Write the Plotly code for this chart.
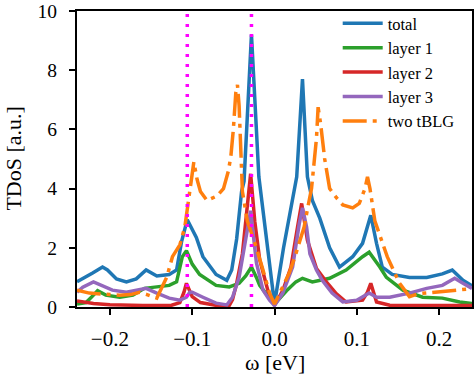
import plotly.graph_objects as go

# ---- data ----
total_x = [-0.24, -0.233, -0.221, -0.209, -0.203, -0.192, -0.18, -0.168, -0.156, -0.143,
           -0.128, -0.119, -0.113, -0.106, -0.1, -0.095, -0.087, -0.071, -0.058, -0.052,
           -0.046, -0.04, -0.037, -0.028, -0.019, -0.01, -0.004, 0.0, 0.011, 0.027,
           0.034, 0.04, 0.046, 0.055, 0.067, 0.079, 0.095, 0.107, 0.117, 0.124,
           0.131, 0.143, 0.164, 0.185, 0.204, 0.216, 0.229, 0.24]
total_y = [0.85, 0.95, 1.15, 1.35, 1.25, 0.95, 0.85, 0.95, 1.25, 1.05,
           1.1, 1.25, 2.2, 2.95, 2.6, 2.35, 1.7, 1.1, 0.9, 1.25,
           2.3, 3.9, 4.25, 9.2, 4.4, 2.35, 0.9, 0.1, 2.0, 4.4,
           7.7, 4.4, 3.6, 3.0, 2.0, 1.35, 1.7, 2.15, 3.1, 2.15,
           1.35, 1.1, 1.0, 1.0, 1.12, 1.25, 0.9, 0.72]

layer1_x = [-0.24, -0.229, -0.22, -0.215, -0.205, -0.188, -0.172, -0.158, -0.143, -0.128,
            -0.119, -0.112, -0.107, -0.1, -0.091, -0.071, -0.055, -0.043, -0.035, -0.028,
            -0.022, -0.018, -0.006, 0.0, 0.0146, 0.026, 0.034, 0.046, 0.067, 0.087,
            0.107, 0.115, 0.128, 0.136, 0.156, 0.18, 0.204, 0.225, 0.24]
layer1_y = [0.1, 0.15, 0.4, 0.55, 0.4, 0.33, 0.4, 0.63, 0.68, 0.73,
            0.85, 1.7, 1.9, 1.45, 1.1, 0.73, 0.68, 0.8, 1.05, 1.35,
            1.0, 0.73, 0.3, 0.1, 0.55, 0.85, 0.97, 0.85, 0.97, 1.25,
            1.7, 1.85, 1.35, 1.0, 0.57, 0.33, 0.3, 0.17, 0.12]

layer2_x = [-0.24, -0.22, -0.2, -0.16, -0.125, -0.115, -0.11, -0.107, -0.1, -0.09,
            -0.07, -0.055, -0.051, -0.046, -0.039, -0.033, -0.029, -0.024, -0.018, -0.008,
            0.0, 0.01, 0.02, 0.028, 0.033, 0.04, 0.051, 0.063, 0.075, 0.087,
            0.107, 0.113, 0.117, 0.124, 0.14, 0.24]
layer2_y = [0.2, 0.12, 0.08, 0.05, 0.06, 0.15, 0.5, 0.8, 0.35, 0.15,
            0.05, 0.05, 0.25, 0.8, 1.8, 3.5, 4.5, 2.9, 1.6, 0.55,
            0.05, 0.55, 1.35, 2.7, 3.5, 2.25, 1.3, 0.85, 0.45, 0.17,
            0.23, 0.5, 0.8, 0.17, 0.06, 0.05]

layer3_x = [-0.24, -0.233, -0.22, -0.209, -0.197, -0.18, -0.164, -0.156, -0.143, -0.128,
            -0.115, -0.107, -0.103, -0.1, -0.087, -0.071, -0.058, -0.051, -0.043, -0.034,
            -0.029, -0.022, -0.014, -0.006, 0.0, 0.01, 0.022, 0.03, 0.034, 0.039,
            0.043, 0.051, 0.058, 0.07, 0.083, 0.1, 0.112, 0.115, 0.124, 0.14,
            0.164, 0.185, 0.204, 0.219, 0.229, 0.24]
layer3_y = [0.5, 0.67, 0.85, 0.73, 0.57, 0.5, 0.57, 0.63, 0.47, 0.3,
            0.23, 0.33, 0.5, 0.5, 0.33, 0.13, 0.07, 0.33, 1.0, 2.35,
            3.25, 1.5, 0.57, 0.23, 0.05, 0.47, 1.35, 2.8, 3.35, 2.7,
            1.8, 1.25, 0.9, 0.47, 0.17, 0.23, 0.4, 0.47, 0.33, 0.33,
            0.47, 0.63, 0.73, 0.97, 0.8, 0.63]

tblg_x = [-0.24, -0.225, -0.2, -0.188, -0.175, -0.164, -0.155, -0.143, -0.131, -0.124,
          -0.115, -0.109, -0.104, -0.098, -0.094, -0.09, -0.082, -0.07, -0.062, -0.056,
          -0.053, -0.05, -0.047, -0.045, -0.043, -0.039, -0.033, -0.022, -0.014, -0.006,
          0.0, 0.006, 0.018, 0.026, 0.036, 0.04, 0.045, 0.051, 0.053, 0.056,
          0.061, 0.067, 0.075, 0.083, 0.095, 0.103, 0.11, 0.113, 0.116, 0.122,
          0.137, 0.152, 0.164, 0.175, 0.192, 0.215, 0.24]
tblg_y = [0.57, 0.47, 0.42, 0.4, 0.42, 0.5, 0.42, 0.3, 1.0, 1.7,
          2.1, 2.7, 3.7, 4.9, 4.3, 3.9, 3.6, 3.75, 4.0, 4.6,
          5.1, 6.0, 7.25, 7.5, 6.8, 3.9, 2.9, 2.0, 1.25, 0.47,
          0.1, 0.47, 1.15, 1.8, 2.7, 3.3, 4.0, 5.7, 6.75, 6.2,
          5.0, 4.0, 3.7, 3.45, 3.35, 3.5, 4.0, 4.4, 4.0, 2.9,
          1.7, 0.8, 0.35, 0.45, 0.5, 0.55, 0.62]

vline_x = [-0.106, -0.028]

x_ticks = [-0.2, -0.1, 0.0, 0.1, 0.2]
y_ticks = [0, 2, 4, 6, 8, 10]

x_title = "ω [eV]"
y_title = "TDoS [a.u.]"

# ---- figure ----
LW = 3.5
fig = go.Figure()
series = [
    ("total", total_x, total_y, "#1f77b4", "solid"),
    ("layer 1", layer1_x, layer1_y, "#2ca02c", "solid"),
    ("layer 2", layer2_x, layer2_y, "#d62728", "solid"),
    ("layer 3", layer3_x, layer3_y, "#9467bd", "solid"),
    ("two tBLG", tblg_x, tblg_y, "#ff7f0e", "24px,6px,4px,6px"),
]
for name, xs, ys, col, dash in series:
    fig.add_trace(go.Scatter(x=xs, y=ys, mode="lines", name=name,
                             line=dict(color=col, width=LW, dash=dash)))

for xv in vline_x:
    fig.add_trace(go.Scatter(x=[xv, xv], y=[y_ticks[0], y_ticks[-1]], mode="lines",
                             showlegend=False, hoverinfo="skip",
                             line=dict(color="#ff00ff", width=3.5, dash="3px,7px")))

FONT = "serif"
fig.update_layout(
    width=474, height=382,
    margin=dict(l=77, r=2, t=11, b=75, autoexpand=False),
    paper_bgcolor="white", plot_bgcolor="white",
    font=dict(family=FONT, color="black", size=20),
    showlegend=True,
    legend=dict(x=0.66, y=1.017, xanchor="left", yanchor="top",
                bgcolor="rgba(0,0,0,0)", borderwidth=0, itemwidth=40,
                font=dict(family=FONT, size=16.5), tracegroupgap=0),
    annotations=[
        dict(text=x_title, xref="paper", yref="paper", x=0.5, y=-0.186,
             xanchor="center", yanchor="middle", showarrow=False,
             font=dict(family=FONT, size=22)),
        dict(text=y_title, xref="paper", yref="paper", x=-0.163, y=0.5,
             xanchor="center", yanchor="middle", showarrow=False, textangle=-90,
             font=dict(family=FONT, size=22)),
    ],
)
fig.update_xaxes(range=[-0.24, 0.24], tickvals=x_ticks, tickformat=".1f",
                 showgrid=False, zeroline=False, automargin=False,
                 showline=True, linecolor="black", linewidth=2, mirror=True,
                 ticks="outside", ticklen=6, tickwidth=2, tickcolor="black",
                 ticklabelstandoff=6, ticklabeloverflow="allow",
                 tickfont=dict(family=FONT, size=21))
fig.update_yaxes(range=[0, 10], tickvals=y_ticks,
                 showgrid=False, zeroline=False, automargin=False,
                 showline=True, linecolor="black", linewidth=2, mirror=True,
                 ticks="outside", ticklen=6, tickwidth=2, tickcolor="black",
                 ticklabelstandoff=8, ticklabeloverflow="allow",
                 tickfont=dict(family=FONT, size=19.5))

fig.write_html("out.html", config={"displayModeBar": False},
               post_script="document.body.style.margin='0px';")
